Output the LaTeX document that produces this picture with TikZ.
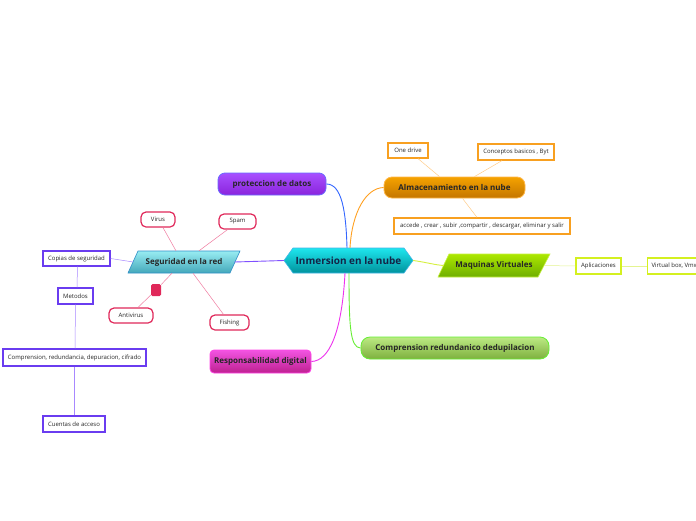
\documentclass[tikz,border=0pt]{standalone}
\usepackage{fontspec}
\setmainfont{Open Sans}
\definecolor{orange1}{HTML}{F8A020}
\definecolor{crim}{HTML}{E0285A}
\definecolor{purp}{HTML}{6A3CF0}
\definecolor{ygreen}{HTML}{D4F020}
\definecolor{cTop}{HTML}{1EE6EE}
\definecolor{cBot}{HTML}{00929C}
\definecolor{cBrd}{HTML}{40B8E8}
\definecolor{cTxt}{HTML}{142346}
\definecolor{pTop}{HTML}{A850FF}
\definecolor{pBot}{HTML}{8A24DC}
\definecolor{pBrd}{HTML}{6A6AFF}
\definecolor{aTop}{HTML}{F5A200}
\definecolor{aBot}{HTML}{C47600}
\definecolor{aBrd}{HTML}{FFB848}
\definecolor{sTop}{HTML}{98ECF2}
\definecolor{sBot}{HTML}{44A8BA}
\definecolor{sBrd}{HTML}{3090C8}
\definecolor{mTop}{HTML}{ACE800}
\definecolor{mBot}{HTML}{6EAE00}
\definecolor{mBrd}{HTML}{C8F040}
\definecolor{gTop}{HTML}{BCEA84}
\definecolor{gBot}{HTML}{7EB03E}
\definecolor{gBrd}{HTML}{66EE33}
\definecolor{rTop}{HTML}{F254E2}
\definecolor{rBot}{HTML}{BE2090}
\definecolor{rBrd}{HTML}{FF44E6}
\definecolor{lnBlue}{HTML}{3366FF}
\definecolor{lnOrange}{HTML}{FFA020}
\definecolor{lnPurple}{HTML}{8050FF}
\definecolor{lnYG}{HTML}{D6F040}
\definecolor{lnGreen}{HTML}{66EE33}
\definecolor{lnMag}{HTML}{EE33EE}
\definecolor{slOrange}{HTML}{FFCC88}
\definecolor{slPink}{HTML}{F07CA0}
\definecolor{slPurple}{HTML}{A888FF}
\definecolor{slYG}{HTML}{E4F490}
\begin{document}
\begin{tikzpicture}[x=1pt,y=-1pt,
  titlebox/.style={font=\bfseries\fontsize{8}{9}\selectfont, text=black!85, inner sep=0pt},
  leaf/.style={font=\fontsize{6}{7}\selectfont, text=black!85, fill=white, line width=1.2pt, inner sep=0pt},
  oleaf/.style={leaf, draw=orange1},
  rleaf/.style={leaf, draw=crim, rounded corners=5pt},
  pleaf/.style={leaf, draw=purp},
  yleaf/.style={leaf, draw=ygreen},
  conn/.style={line width=0.5pt},
  mainconn/.style={line width=0.9pt}
]
\clip (0,0) rectangle (696,520);
\fill[white] (0,0) rectangle (696,520);

% central node shape
\shadedraw[top color=cTop, bottom color=cBot, draw=cBrd, line width=0.6pt]
  (284,260.5) -- (293,248) -- (404,248) -- (413,260.5) -- (404,273) -- (293,273) -- cycle;
\node[font=\bfseries\fontsize{10}{12}\selectfont, text=cTxt, minimum width=129pt, minimum height=25pt, inner sep=0pt] (c) at (348.5,260.5) {Inmersion en la nube};

% main branches
\node[titlebox, minimum width=108pt, minimum height=22pt, rounded corners=7pt, top color=pTop, bottom color=pBot, draw=pBrd, line width=0.8pt] (prot) at (272,184) {proteccion de datos};
\node[titlebox, minimum width=141pt, minimum height=21pt, rounded corners=8pt, top color=aTop, bottom color=aBot, draw=aBrd, line width=0.8pt] (alm) at (454.5,187.5) {Almacenamiento en la nube};

\shadedraw[top color=sTop, bottom color=sBot, draw=sBrd, line width=0.6pt]
  (138,251) -- (240,251) -- (230,273) -- (128,273) -- cycle;
\node[titlebox, minimum width=101pt, minimum height=22pt] (seg) at (184,262) {Seguridad en la red};

\shadedraw[top color=mTop, bottom color=mBot, draw=mBrd, line width=0.6pt]
  (449,254) -- (550,254) -- (538,277) -- (438,277) -- cycle;
\node[titlebox, minimum width=100pt, minimum height=23pt] (maq) at (494,265.5) {Maquinas Virtuales};

\node[titlebox, minimum width=188pt, minimum height=22pt, rounded corners=9pt, top color=gTop, bottom color=gBot, draw=gBrd, line width=0.8pt] (comp) at (455,348) {Comprension redundanico dedupilacion};
\node[titlebox, minimum width=101pt, minimum height=23pt, rounded corners=4pt, top color=rTop, bottom color=rBot, draw=rBrd, line width=0.8pt] (resp) at (260.5,361.5) {Responsabilidad digital};

% leaves
\node[oleaf, minimum width=40pt, minimum height=15pt] (one) at (408,150.5) {One drive};
\node[oleaf, minimum width=76pt, minimum height=16pt] (conc) at (516,152) {Conceptos basicos , Byt};
\node[oleaf, minimum width=176pt, minimum height=16pt] (acc) at (482,226) {accede , crear , subir ,compartir , descargar, eliminar y salir};

\node[rleaf, minimum width=34pt, minimum height=15pt] (virus) at (158,219.5) {Virus};
\node[rleaf, minimum width=37pt, minimum height=15pt] (spam) at (237.5,221.5) {Spam};
\node[rleaf, minimum width=44pt, minimum height=15pt] (anti) at (131,315.5) {Antivirus};
\node[rleaf, minimum width=39pt, minimum height=15pt] (fish) at (229.5,322.5) {Fishing};
\node[fill=crim, rounded corners=1.5pt, minimum width=10pt, minimum height=12pt, inner sep=0pt] (sq) at (156,290) {};

\node[pleaf, minimum width=67pt, minimum height=15pt] (cop) at (76.5,258.5) {Copias de seguridad};
\node[pleaf, minimum width=35pt, minimum height=16pt] (met) at (75.5,296) {Metodos};
\node[pleaf, minimum width=143pt, minimum height=17pt] (cmp) at (74.5,357.5) {Comprension, redundancia, depuracion, cifrado};
\node[pleaf, minimum width=62pt, minimum height=16pt] (cue) at (74,424) {Cuentas de acceso};

\node[yleaf, minimum width=45pt, minimum height=16pt] (apl) at (598.5,266) {Aplicaciones};
\node[yleaf, minimum height=16pt, anchor=west, inner xsep=4pt] (vb) at (647,266) {Virtual box, Vmware};

% main connectors
\draw[mainconn, draw=lnBlue] ([xshift=-1.5pt]c.north) .. controls (346,212) and (342,184) .. (prot.east);
\draw[mainconn, draw=lnOrange] ([xshift=1.5pt]c.north) .. controls (352,212) and (366,188) .. (alm.west);
\draw[mainconn, draw=lnPurple] (c.west) -- (seg.east);
\draw[mainconn, draw=lnYG] (c.east) .. controls (425,262) and (435,265) .. (maq.west);
\draw[mainconn, draw=lnGreen] ([xshift=0.5pt]c.south) .. controls (349,325) and (350,348) .. (comp.west);
\draw[mainconn, draw=lnMag] ([xshift=-3.5pt]c.south) .. controls (342,330) and (330,361) .. (resp.east);

% sub connectors
\begin{scope}[conn, draw=slOrange]
\draw ([xshift=10pt]one.south) -- ([xshift=-15pt]alm.north);
\draw ([xshift=-14pt]conc.south) -- ([xshift=20pt]alm.north);
\draw ([xshift=8pt]alm.south) -- ([xshift=-5pt]acc.north);
\end{scope}
\begin{scope}[conn, draw=slPink]
\draw ([xshift=-8pt]seg.north) -- ([xshift=5pt]virus.south);
\draw ([xshift=15pt]seg.north) -- ([xshift=-10pt]spam.south);
\draw ([xshift=-12pt]seg.south) -- (sq) -- ([xshift=7pt]anti.north);
\draw ([xshift=9pt]seg.south) -- ([xshift=-6pt]fish.north);
\end{scope}
\begin{scope}[conn, draw=slPurple]
\draw (seg.west) -- (cop.east);
\draw ([xshift=1pt]cop.south) -- ([xshift=1.5pt]met.north);
\draw (met.south) -- ([xshift=0.5pt]cmp.north);
\draw ([xshift=-0.5pt]cmp.south) -- (cue.north);
\end{scope}
\begin{scope}[conn, draw=slYG]
\draw (maq.east) -- (apl.west);
\draw (apl.east) -- (vb.west);
\end{scope}
\end{tikzpicture}
\end{document}
